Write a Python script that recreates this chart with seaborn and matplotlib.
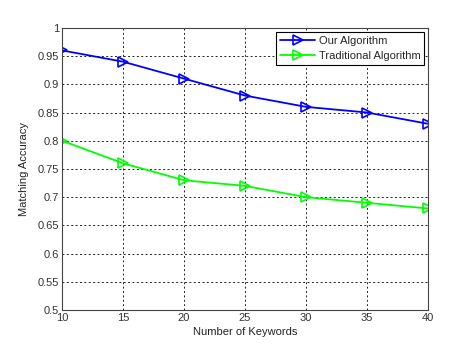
import matplotlib
matplotlib.use("Agg")
import matplotlib.pyplot as plt
import seaborn as sns
import pandas as pd

keywords = [10, 15, 20, 25, 30, 35, 40]
our_alg = [0.96, 0.94, 0.91, 0.88, 0.86, 0.85, 0.83]
trad_alg = [0.80, 0.76, 0.73, 0.72, 0.70, 0.69, 0.68]
series_names = ["Our Algorithm", "Traditional Algorithm"]
yticks = [0.5, 0.55, 0.6, 0.65, 0.7, 0.75, 0.8, 0.85, 0.9, 0.95, 1]
ytick_labels = ["0.5", "0.55", "0.6", "0.65", "0.7", "0.75", "0.8", "0.85", "0.9", "0.95", "1"]

sns.set_theme(style="white")
plt.rcParams['font.family'] = ['Liberation Sans', 'DejaVu Sans']

df = pd.DataFrame({
    "Number of Keywords": keywords * 2,
    "Matching Accuracy": our_alg + trad_alg,
    "Series": [series_names[0]] * len(keywords) + [series_names[1]] * len(keywords),
})

fig = plt.figure(figsize=(4.74, 3.48), dpi=100)
ax = fig.add_axes([0.131, 0.109, 0.772, 0.811])
palette = {series_names[0]: "#0000ff", series_names[1]: "#00ff00"}
sns.lineplot(data=df, x="Number of Keywords", y="Matching Accuracy", hue="Series",
             palette=palette, marker=">", markersize=6.5, markerfacecolor="none",
             markeredgewidth=1.2, linewidth=1.3, ax=ax, legend=False)
for line in ax.lines:
    line.set_markeredgecolor(line.get_color())
    line.set_markerfacecolor("none")

ax.set_xlim(10, 40)
ax.set_ylim(0.5, 1)
ax.set_xticks(keywords)
ax.set_xticklabels([str(k) for k in keywords])
ax.set_yticks(yticks)
ax.set_yticklabels(ytick_labels)
ax.grid(True, linestyle=(0, (2, 2.5)), color="#222222", linewidth=0.7)
ax.tick_params(direction="in", length=3, labelsize=8, colors="#333333", pad=2)
for s in ax.spines.values():
    s.set_color("#444444")
    s.set_linewidth(0.8)
ax.set_xlabel("Number of Keywords", fontsize=8, labelpad=3, color="#222222")
ax.set_ylabel("Matching Accuracy", fontsize=8, labelpad=6, color="#222222")

handles = ax.lines[:2]
leg = ax.legend(handles, series_names, loc="upper right", fontsize=8, frameon=True,
                fancybox=False, edgecolor="black", framealpha=1, borderpad=0.35,
                handlelength=3.2, handletextpad=0.3, labelspacing=0.45,
                bbox_to_anchor=(0.99, 0.985), borderaxespad=0)
leg.get_frame().set_linewidth(0.8)

fig.savefig("out.png", dpi=100)
